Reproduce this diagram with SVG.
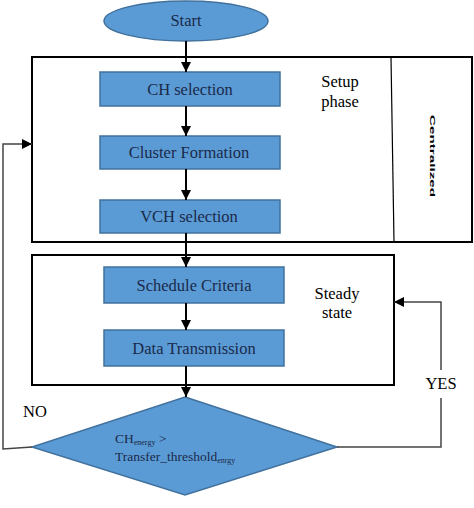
<svg xmlns="http://www.w3.org/2000/svg" width="474" height="508" viewBox="0 0 474 508">
<style>
.box{fill:#5b9bd5;stroke:#41719c;stroke-width:1.5}
.frame{fill:none;stroke:#000;stroke-width:2}
.lbl{font-family:'Liberation Serif','Times New Roman','DejaVu Serif',serif;font-size:16.5px;fill:#1a2a4a;text-anchor:middle}
.side{font-family:'Liberation Serif','Times New Roman','DejaVu Serif',serif;font-size:16.5px;fill:#000;text-anchor:middle}
.dec{font-family:'Liberation Serif','Times New Roman','DejaVu Serif',serif;font-size:13.5px;fill:#1a2a4a}
.con{fill:none;stroke:#000;stroke-width:2}
.gcon{fill:none;stroke:#444;stroke-width:1.5}
</style>
<defs>
<marker id="ah" viewBox="0 0 10 10" refX="10" refY="5" markerWidth="10" markerHeight="10" markerUnits="userSpaceOnUse" orient="auto">
<path d="M0,0 L10,5 L0,10 z" fill="#000"/>
</marker>
</defs>
<g id="setup-frame">
<rect class="frame" x="32" y="57" width="440" height="185"/>
<line x1="391" y1="57" x2="394" y2="242" stroke="#000" stroke-width="1.2"/>
<text class="side" x="340" y="87">Setup</text>
<text class="side" x="340" y="107">phase</text>
<text transform="translate(430,156) rotate(90)" font-family="'Liberation Sans',sans-serif" font-weight="bold" font-size="8" fill="#000" text-anchor="middle" textLength="82" lengthAdjust="spacingAndGlyphs">Centralized</text>
</g>
<g id="steady-frame">
<rect class="frame" x="32" y="255" width="362" height="130"/>
<text class="side" x="337" y="299">Steady</text>
<text class="side" x="337" y="318">state</text>
</g>
<g id="start">
<ellipse class="box" cx="186" cy="21" rx="82" ry="20"/>
<text class="lbl" x="186" y="26" font-size="14">Start</text>
</g>
<g id="ch-selection">
<rect class="box" x="100" y="72" width="180" height="34"/>
<text class="lbl" x="190" y="95">CH selection</text>
</g>
<g id="cluster-formation">
<rect class="box" x="100" y="136" width="180" height="33"/>
<text class="lbl" x="189" y="158">Cluster Formation</text>
</g>
<g id="vch-selection">
<rect class="box" x="100" y="200" width="180" height="33"/>
<text class="lbl" x="189" y="222">VCH selection</text>
</g>
<g id="schedule-criteria">
<rect class="box" x="104" y="267" width="180" height="36"/>
<text class="lbl" x="194" y="291">Schedule Criteria</text>
</g>
<g id="data-transmission">
<rect class="box" x="104" y="330" width="180" height="36"/>
<text class="lbl" x="194" y="354">Data Transmission</text>
</g>
<g id="decision">
<polygon class="box" points="185,397 337,447 185,495 32,447"/>
<text class="dec" x="115" y="443">CH<tspan font-size="8" dy="2">energy</tspan><tspan dy="-2"> &gt;</tspan></text>
<text class="dec" x="115" y="461">Transfer_threshold<tspan font-size="8" dy="2">enrgy</tspan></text>
</g>
<g id="connectors">
<line class="con" x1="186" y1="41" x2="186" y2="72" marker-end="url(#ah)"/>
<line class="con" x1="186" y1="106" x2="186" y2="136" marker-end="url(#ah)"/>
<line class="con" x1="186" y1="169" x2="186" y2="200" marker-end="url(#ah)"/>
<line class="con" x1="186" y1="233" x2="186" y2="267" marker-end="url(#ah)"/>
<line class="con" x1="186" y1="303" x2="186" y2="330" marker-end="url(#ah)"/>
<line class="con" x1="186" y1="366" x2="186" y2="397" marker-end="url(#ah)"/>
<polyline class="gcon" points="337,447 441,447 441,398"/>
<polyline class="gcon" points="441,370 441,302 394,302" marker-end="url(#ah)"/>
<text class="side" x="441" y="389">YES</text>
<polyline class="gcon" points="32,447 3,449 3,144 32,144" marker-end="url(#ah)"/>
<text class="side" x="35" y="417">NO</text>
</g>
</svg>
